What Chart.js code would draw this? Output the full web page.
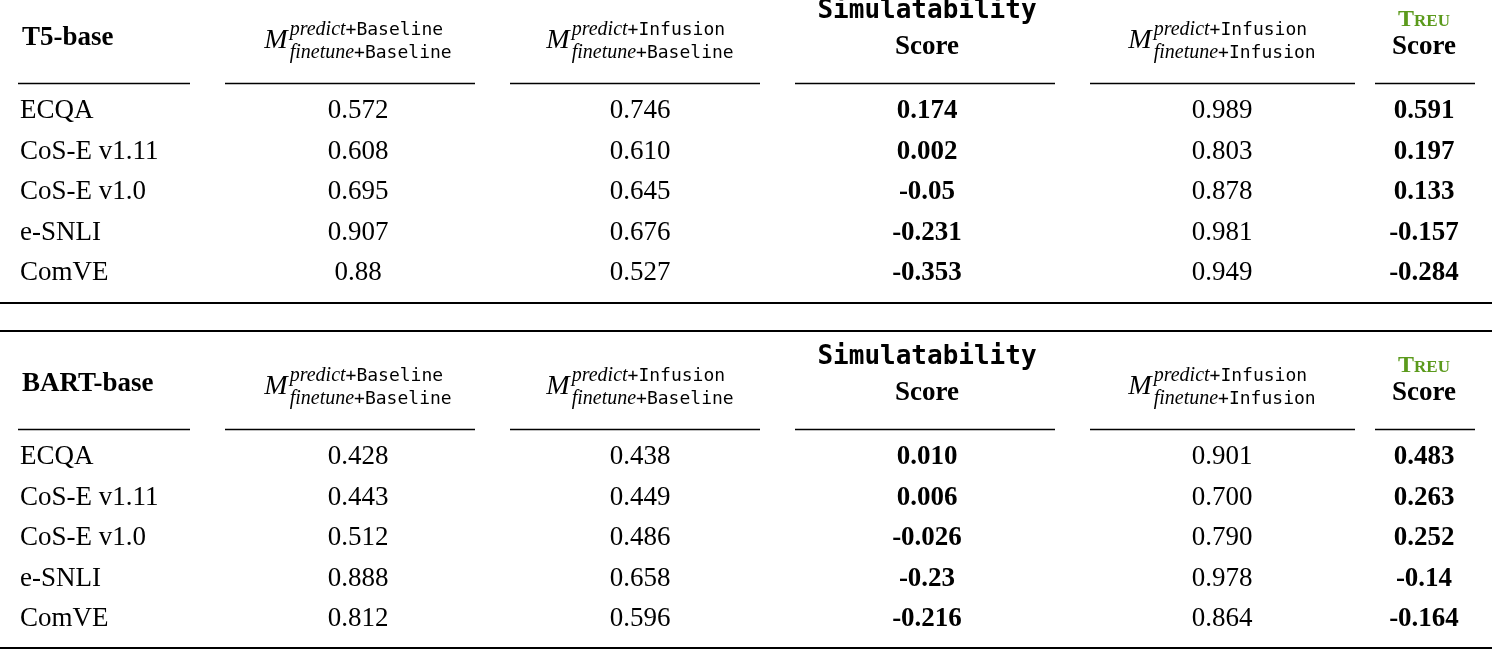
<!DOCTYPE html>
<html><head><meta charset="utf-8">
<script src="https://cdn.jsdelivr.net/npm/chart.js@4"></script>
<style>html,body{margin:0;background:#fff}#wrap{width:1492px;height:651px}</style>
</head><body><div id="wrap"><canvas id="c"></canvas></div>
<script>
const datasets = ["ECQA", "CoS-E v1.11", "CoS-E v1.0", "e-SNLI", "ComVE"];
const models = ["T5-base", "BART-base"];
const t5Base = ["0.572", "0.608", "0.695", "0.907", "0.88"];
const t5Infusion = ["0.746", "0.610", "0.645", "0.676", "0.527"];
const t5Sim = ["0.174", "0.002", "-0.05", "-0.231", "-0.353"];
const t5InfInf = ["0.989", "0.803", "0.878", "0.981", "0.949"];
const t5Treu = ["0.591", "0.197", "0.133", "-0.157", "-0.284"];
const bartBase = ["0.428", "0.443", "0.512", "0.888", "0.812"];
const bartInfusion = ["0.438", "0.449", "0.486", "0.658", "0.596"];
const bartSim = ["0.010", "0.006", "-0.026", "-0.23", "-0.216"];
const bartInfInf = ["0.901", "0.700", "0.790", "0.978", "0.864"];
const bartTreu = ["0.483", "0.263", "0.252", "-0.14", "-0.164"];

// layout (in page pixels, mapped through linear scales)
const colCenter = [null, 358, 640, 927, 1222, 1424];
const colRule = [[18, 190], [225, 475], [510, 760], [795, 1055], [1090, 1355], [1375, 1475]];
const rowY = [111, 152, 192, 233, 273];
const blockOffset = [0, 346];
const green = "#5b9a1c";
const serif = "'Liberation Serif', serif";
const mono = "'DejaVu Sans Mono', monospace";

const tables = [
  [t5Base, t5Infusion, t5Sim, t5InfInf, t5Treu],
  [bartBase, bartInfusion, bartSim, bartInfInf, bartTreu]
];

function drawM(ctx, cx, cy, sup, sub) {
  ctx.textBaseline = "alphabetic";
  ctx.font = "italic 28px " + serif;
  const mW = ctx.measureText("M").width;
  ctx.font = "italic 20px " + serif;
  const w1 = ctx.measureText("predict").width, w2 = ctx.measureText("finetune").width;
  ctx.font = "18px " + mono;
  const s1 = ctx.measureText(sup).width, s2 = ctx.measureText(sub).width;
  const total = mW + 2 + Math.max(w1 + s1, w2 + s2);
  let x = cx - total / 2;
  ctx.textAlign = "left";
  ctx.font = "italic 28px " + serif;
  ctx.fillText("M", x, cy + 10);
  x += mW + 2;
  ctx.font = "italic 20px " + serif; ctx.fillText("predict", x, cy - 3);
  ctx.font = "18px " + mono; ctx.fillText(sup, x + w1, cy - 3);
  ctx.font = "italic 20px " + serif; ctx.fillText("finetune", x, cy + 20);
  ctx.font = "18px " + mono; ctx.fillText(sub, x + w2, cy + 20);
}

const tablePlugin = {
  id: "table",
  afterDraw(chart) {
    const ctx = chart.ctx, xs = chart.scales.x, ys = chart.scales.y;
    const X = v => xs.getPixelForValue(v), Y = v => ys.getPixelForValue(v);
    ctx.save();
    ctx.fillStyle = "#000"; ctx.strokeStyle = "#000";
    tables.forEach((cols, b) => {
      const off = blockOffset[b];
      // header
      ctx.textAlign = "left"; ctx.textBaseline = "middle";
      ctx.font = "bold 27px " + serif;
      ctx.fillText(models[b], X(22), Y(38 + off));
      drawM(ctx, X(colCenter[1]), Y(38 + off), "+Baseline", "+Baseline");
      drawM(ctx, X(colCenter[2]), Y(38 + off), "+Infusion", "+Baseline");
      drawM(ctx, X(colCenter[4]), Y(38 + off), "+Infusion", "+Infusion");
      ctx.textAlign = "center";
      ctx.font = "bold 26px " + mono;
      ctx.fillText("Simulatability", X(colCenter[3]), Y(18 + off));
      ctx.font = "bold 27px " + serif;
      ctx.fillText("Score", X(colCenter[3]), Y(54 + off));
      ctx.fillText("Score", X(colCenter[5]), Y(54 + off));
      // TREU small caps
      ctx.fillStyle = green; ctx.textAlign = "left";
      ctx.font = "bold 24px " + serif; const tw = ctx.measureText("T").width;
      ctx.font = "bold 17px " + serif; const rw = ctx.measureText("REU").width;
      let tx = X(colCenter[5]) - (tw + rw) / 2;
      ctx.textBaseline = "alphabetic";
      ctx.font = "bold 24px " + serif; ctx.fillText("T", tx, Y(26 + off));
      ctx.font = "bold 17px " + serif; ctx.fillText("REU", tx + tw, Y(26 + off));
      ctx.fillStyle = "#000"; ctx.textBaseline = "middle";
      // header rules
      ctx.lineWidth = 1.3;
      colRule.forEach(([a, z]) => {
        ctx.beginPath(); ctx.moveTo(X(a), Y(83.5 + off)); ctx.lineTo(X(z), Y(83.5 + off)); ctx.stroke();
      });
      // rows
      datasets.forEach((name, r) => {
        const y = Y(rowY[r] + off);
        ctx.textAlign = "left"; ctx.font = "27px " + serif;
        ctx.fillText(name, X(20), y);
        ctx.textAlign = "center";
        cols.forEach((col, c) => {
          ctx.font = (c === 2 || c === 4 ? "bold " : "") + "27px " + serif;
          ctx.fillText(col[r], X(colCenter[c + 1]), y);
        });
      });
    });
    // heavy rules
    ctx.lineWidth = 2;
    [303, 331, 648].forEach(v => {
      ctx.beginPath(); ctx.moveTo(X(0), Y(v)); ctx.lineTo(X(1492), Y(v)); ctx.stroke();
    });
    ctx.restore();
  }
};

new Chart(document.getElementById("c"), {
  type: "scatter",
  data: { datasets: [{ data: [] }] },
  options: {
    responsive: true, maintainAspectRatio: false, animation: false,
    layout: { padding: 0 },
    plugins: { legend: { display: false }, tooltip: { enabled: false } },
    scales: {
      x: { type: "linear", min: 0, max: 1492, display: false },
      y: { type: "linear", min: 0, max: 651, reverse: true, display: false }
    }
  },
  plugins: [tablePlugin]
});
</script></body></html>
